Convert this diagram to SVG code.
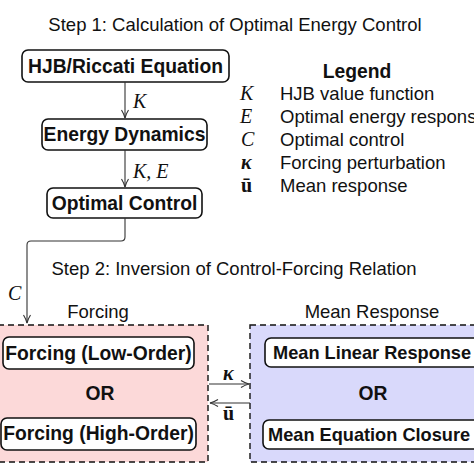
<svg xmlns="http://www.w3.org/2000/svg" width="474" height="474" viewBox="0 0 474 474">
<style>
.t{font-family:"Liberation Sans","DejaVu Sans",sans-serif;font-size:18.5px;fill:#111}
.b{font-family:"Liberation Sans","DejaVu Sans",sans-serif;font-size:19.3px;font-weight:bold;fill:#111;text-anchor:middle}
.bs{font-family:"Liberation Sans","DejaVu Sans",sans-serif;font-size:18.2px;font-weight:bold;fill:#111;text-anchor:start}
.m{font-family:"Liberation Serif","DejaVu Serif",serif;font-size:20px;font-style:italic;fill:#111}
.box{fill:#fff;stroke:#111;stroke-width:1.6}
.grp{stroke:#111;stroke-width:1.4;stroke-dasharray:6,4}
.c{fill:none;stroke:#333;stroke-width:1.1}
</style>
<defs>
<marker id="ah" viewBox="0 0 10 10" refX="9" refY="5" markerWidth="10" markerHeight="10" markerUnits="userSpaceOnUse" orient="auto">
<path d="M1,1.5 Q5,4 9,5 Q5,6 1,8.5" fill="none" stroke="#333" stroke-width="1.1"/>
</marker>
</defs>
<rect width="474" height="474" fill="#fff"/>
<text class="t" x="235" y="31" text-anchor="middle">Step 1: Calculation of Optimal Energy Control</text>
<text class="t" x="234" y="275" text-anchor="middle">Step 2: Inversion of Control-Forcing Relation</text>

<g id="group-forcing">
<rect class="grp" x="-2" y="325" width="210" height="137" fill="#fcd9d9"/>
<text class="t" x="98" y="318" text-anchor="middle">Forcing</text>
<text class="b" x="100" y="400">OR</text>
</g>
<g id="group-response">
<rect class="grp" x="250" y="325" width="240" height="137" fill="#d9d9fb"/>
<text class="t" x="372" y="318" text-anchor="middle">Mean Response</text>
<text class="b" x="373" y="400">OR</text>
</g>

<g id="hjb"><rect class="box" x="22" y="50" width="207" height="32" rx="6"/><text class="b" x="125.5" y="72.5">HJB/Riccati Equation</text></g>
<g id="energy"><rect class="box" x="42" y="119" width="165" height="31" rx="6"/><text class="b" x="124.5" y="141">Energy Dynamics</text></g>
<g id="control"><rect class="box" x="47" y="188" width="155" height="30" rx="6"/><text class="b" x="124.5" y="209.5">Optimal Control</text></g>
<g id="low"><rect class="box" x="3" y="337" width="191" height="32" rx="6"/><text class="b" x="98.5" y="359.5">Forcing (Low-Order)</text></g>
<g id="high"><rect class="box" x="1" y="418" width="195" height="32" rx="6"/><text class="b" x="98.5" y="440">Forcing (High-Order)</text></g>
<g id="linear"><rect class="box" x="265" y="338" width="220" height="29" rx="6"/><text class="bs" x="273" y="359">Mean Linear Response</text></g>
<g id="closure"><rect class="box" x="263" y="420" width="222" height="29" rx="6"/><text class="bs" x="268" y="441">Mean Equation Closure</text></g>

<g id="legend">
<text class="b" x="357" y="78">Legend</text>
<text class="m" x="240" y="100">K</text><text class="t" x="280" y="100">HJB value function</text>
<text class="m" x="240" y="123">E</text><text class="t" x="280" y="123">Optimal energy response</text>
<text class="m" x="241" y="146">C</text><text class="t" x="280" y="146">Optimal control</text>
<text class="m" x="241" y="169" font-weight="bold">κ</text><text class="t" x="280" y="169">Forcing perturbation</text>
<text x="241" y="192" font-family="Liberation Serif,serif" font-size="20" font-weight="bold" fill="#111">ū</text><text class="t" x="280" y="192">Mean response</text>
</g>

<g id="connectors">
<path class="c" d="M125,82 V118" marker-end="url(#ah)"/>
<text class="m" x="133" y="108">K</text>
<path class="c" d="M125,150 V187" marker-end="url(#ah)"/>
<text class="m" x="133" y="178">K, E</text>
<path class="c" d="M125,218 V237 Q125,241 121,241 H31 Q27,241 27,245 V323" marker-end="url(#ah)"/>
<text class="m" x="8" y="300">C</text>
<path class="c" d="M209,384 H249" marker-end="url(#ah)"/>
<text class="m" x="223" y="380" font-weight="bold">κ</text>
<path class="c" d="M250,403 H210" marker-end="url(#ah)"/>
<text x="223" y="420" font-family="Liberation Serif,serif" font-size="20" font-weight="bold" fill="#111">ū</text>
</g>
</svg>
